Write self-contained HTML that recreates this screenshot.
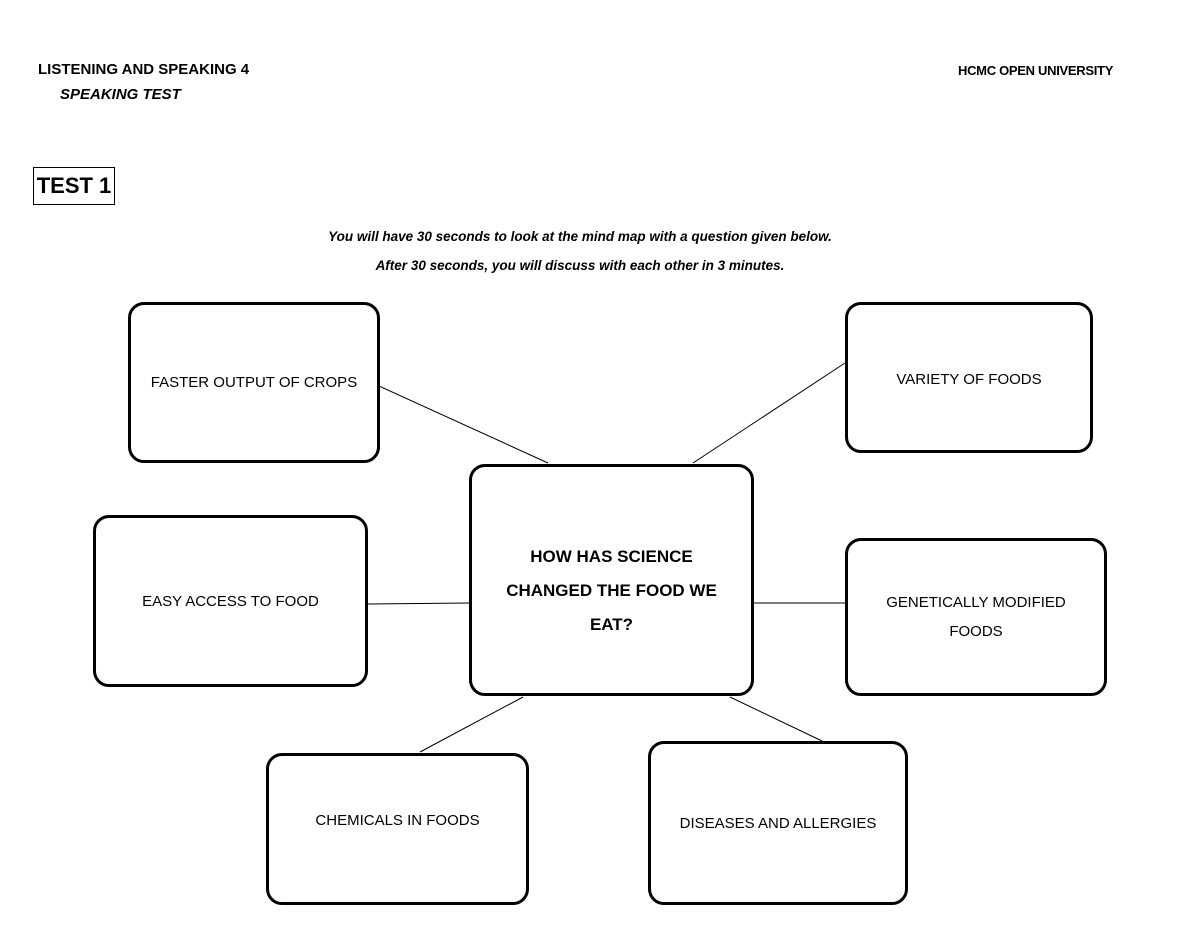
<!DOCTYPE html>
<html><head><style>
body{margin:0;width:1200px;height:927px;background:#fff;position:relative;font-family:"Liberation Sans",sans-serif;overflow:hidden}
.t{position:absolute;white-space:nowrap;color:#000}
.b{position:absolute;border:3px solid #000;border-radius:16px;box-sizing:border-box;display:flex;align-items:center;justify-content:center;text-align:center;font-size:15px}
</style></head><body>
<div class="t" style="left:38px;top:61px;font-size:15px;font-weight:bold">LISTENING AND SPEAKING 4</div>
<div class="t" style="left:60px;top:86px;font-size:15px;font-weight:bold;font-style:italic">SPEAKING TEST</div>
<div class="t" style="left:958px;top:63px;font-size:13px;font-weight:bold;letter-spacing:-0.3px">HCMC OPEN UNIVERSITY</div>
<div class="t" style="left:33px;top:167px;width:82px;height:38px;border:1px solid #000;box-sizing:border-box;font-size:22px;font-weight:bold;line-height:36px;text-align:center">TEST 1</div>
<div class="t" style="left:0;width:1160px;text-align:center;top:229px;font-size:13.5px;font-weight:bold;font-style:italic">You will have 30 seconds to look at the mind map with a question given below.</div>
<div class="t" style="left:0;width:1160px;text-align:center;top:258px;font-size:13.5px;font-weight:bold;font-style:italic">After 30 seconds, you will discuss with each other in 3 minutes.</div>
<svg style="position:absolute;left:0;top:0" width="1200" height="927">
<g stroke="#000" stroke-width="1">
<line x1="379" y1="386" x2="548" y2="463"/>
<line x1="693" y1="463" x2="845" y2="363"/>
<line x1="367" y1="604" x2="469" y2="603"/>
<line x1="753" y1="603" x2="845" y2="603"/>
<line x1="523" y1="697" x2="420" y2="752"/>
<line x1="730" y1="697" x2="822" y2="741"/>
</g></svg>
<div class="b" style="left:128px;top:302px;width:252px;height:161px">FASTER OUTPUT OF CROPS</div>
<div class="b" style="left:845px;top:302px;width:248px;height:151px;padding-top:4px">VARIETY OF FOODS</div>
<div class="b" style="left:93px;top:515px;width:275px;height:172px">EASY ACCESS TO FOOD</div>
<div class="b" style="left:469px;top:464px;width:285px;height:232px;font-size:17px;font-weight:bold;line-height:34px;padding:22px 22px 0">HOW HAS SCIENCE CHANGED THE FOOD WE EAT?</div>
<div class="b" style="left:845px;top:538px;width:262px;height:158px;line-height:29px;padding:0 20px">GENETICALLY MODIFIED FOODS</div>
<div class="b" style="left:266px;top:753px;width:263px;height:152px;padding-bottom:18px">CHEMICALS IN FOODS</div>
<div class="b" style="left:648px;top:741px;width:260px;height:164px">DISEASES AND ALLERGIES</div>
</body></html>
